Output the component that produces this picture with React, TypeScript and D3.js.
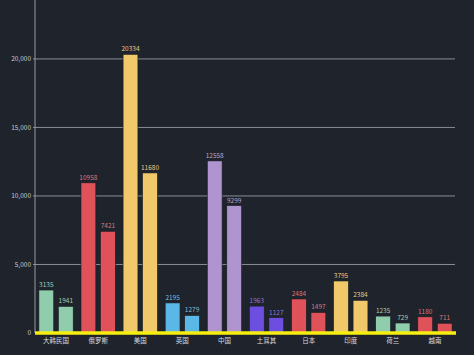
import React from "react";
import * as d3 from "d3";

const categories = ["大韩民国", "俄罗斯", "美国", "英国", "中国", "土耳其", "日本", "印度", "荷兰", "越南"];
const seriesA = [3135, 10958, 20334, 2195, 12558, 1963, 2484, 3795, 1235, 1180];
const seriesB = [1941, 7421, 11680, 1279, 9299, 1127, 1497, 2384, 729, 711];
const colors = ["#8fcdac", "#e0525a", "#f2c96a", "#5bb7e6", "#b094cf", "#6d4fe0", "#e0525a", "#f2c96a", "#8fcdac", "#e0525a"];
const yTicks = [0, 5000, 10000, 15000, 20000];
const yMax = 24300;

const W = 474;
const H = 355;
const left = 35;
const right = 456;
const bottom = 333;

export default function App() {
  const x = d3.scaleBand<string>().domain(categories).range([left, right]).paddingInner(0).paddingOuter(0);
  const inner = d3.scaleBand<number>().domain([0, 1]).range([0, x.bandwidth()]).paddingInner(0.24).paddingOuter(0.2);
  const y = d3.scaleLinear().domain([0, yMax]).range([bottom, 0]);
  const fmt = d3.format(",");
  const font = "'Noto Sans CJK SC', 'DejaVu Sans', sans-serif";
  const labelColor = (c: string) => d3.interpolateRgb(c, "#d0d0d0")(0.3);

  return (
    <svg width={W} height={H} style={{ position: "absolute", left: 0, top: 0, background: "#1f232b" }} fontFamily={font}>
      <rect x={0} y={0} width={W} height={H} fill="#1f232b" />
      {yTicks.map((t) => (
        <g key={t}>
          {t > 0 && <line x1={left - 2} x2={right - 1} y1={y(t)} y2={y(t)} stroke="#8a8d93" strokeWidth={1} />}
          <text x={left - 4} y={y(t)} dy="0.35em" textAnchor="end" fontSize={6.5} fill="#c8cad0">
            {fmt(t)}
          </text>
        </g>
      ))}
      <line x1={left} x2={left} y1={0} y2={bottom} stroke="#9a9ca2" strokeWidth={1} />
      {categories.map((c, i) => {
        const vals = [seriesA[i], seriesB[i]];
        return (
          <g key={c} transform={`translate(${x(c)},0)`}>
            {vals.map((v, j) => (
              <g key={j}>
                <rect
                  x={inner(j)}
                  y={y(v)}
                  width={inner.bandwidth()}
                  height={bottom - y(v)}
                  fill={colors[i]}
                  stroke="#1a1d24"
                  strokeWidth={0.6}
                />
                <text
                  x={(inner(j) as number) + inner.bandwidth() / 2}
                  y={y(v) - 3}
                  textAnchor="middle"
                  fontSize={6.5}
                  fill={labelColor(colors[i])}
                >
                  {v}
                </text>
              </g>
            ))}
            <text x={x.bandwidth() / 2} y={bottom + 9.5} textAnchor="middle" fontSize={6.5} fill="#d8dade">
              {c}
            </text>
          </g>
        );
      })}
      <line x1={left} x2={right} y1={bottom} y2={bottom} stroke="#f5ee10" strokeWidth={3.5} />
    </svg>
  );
}
